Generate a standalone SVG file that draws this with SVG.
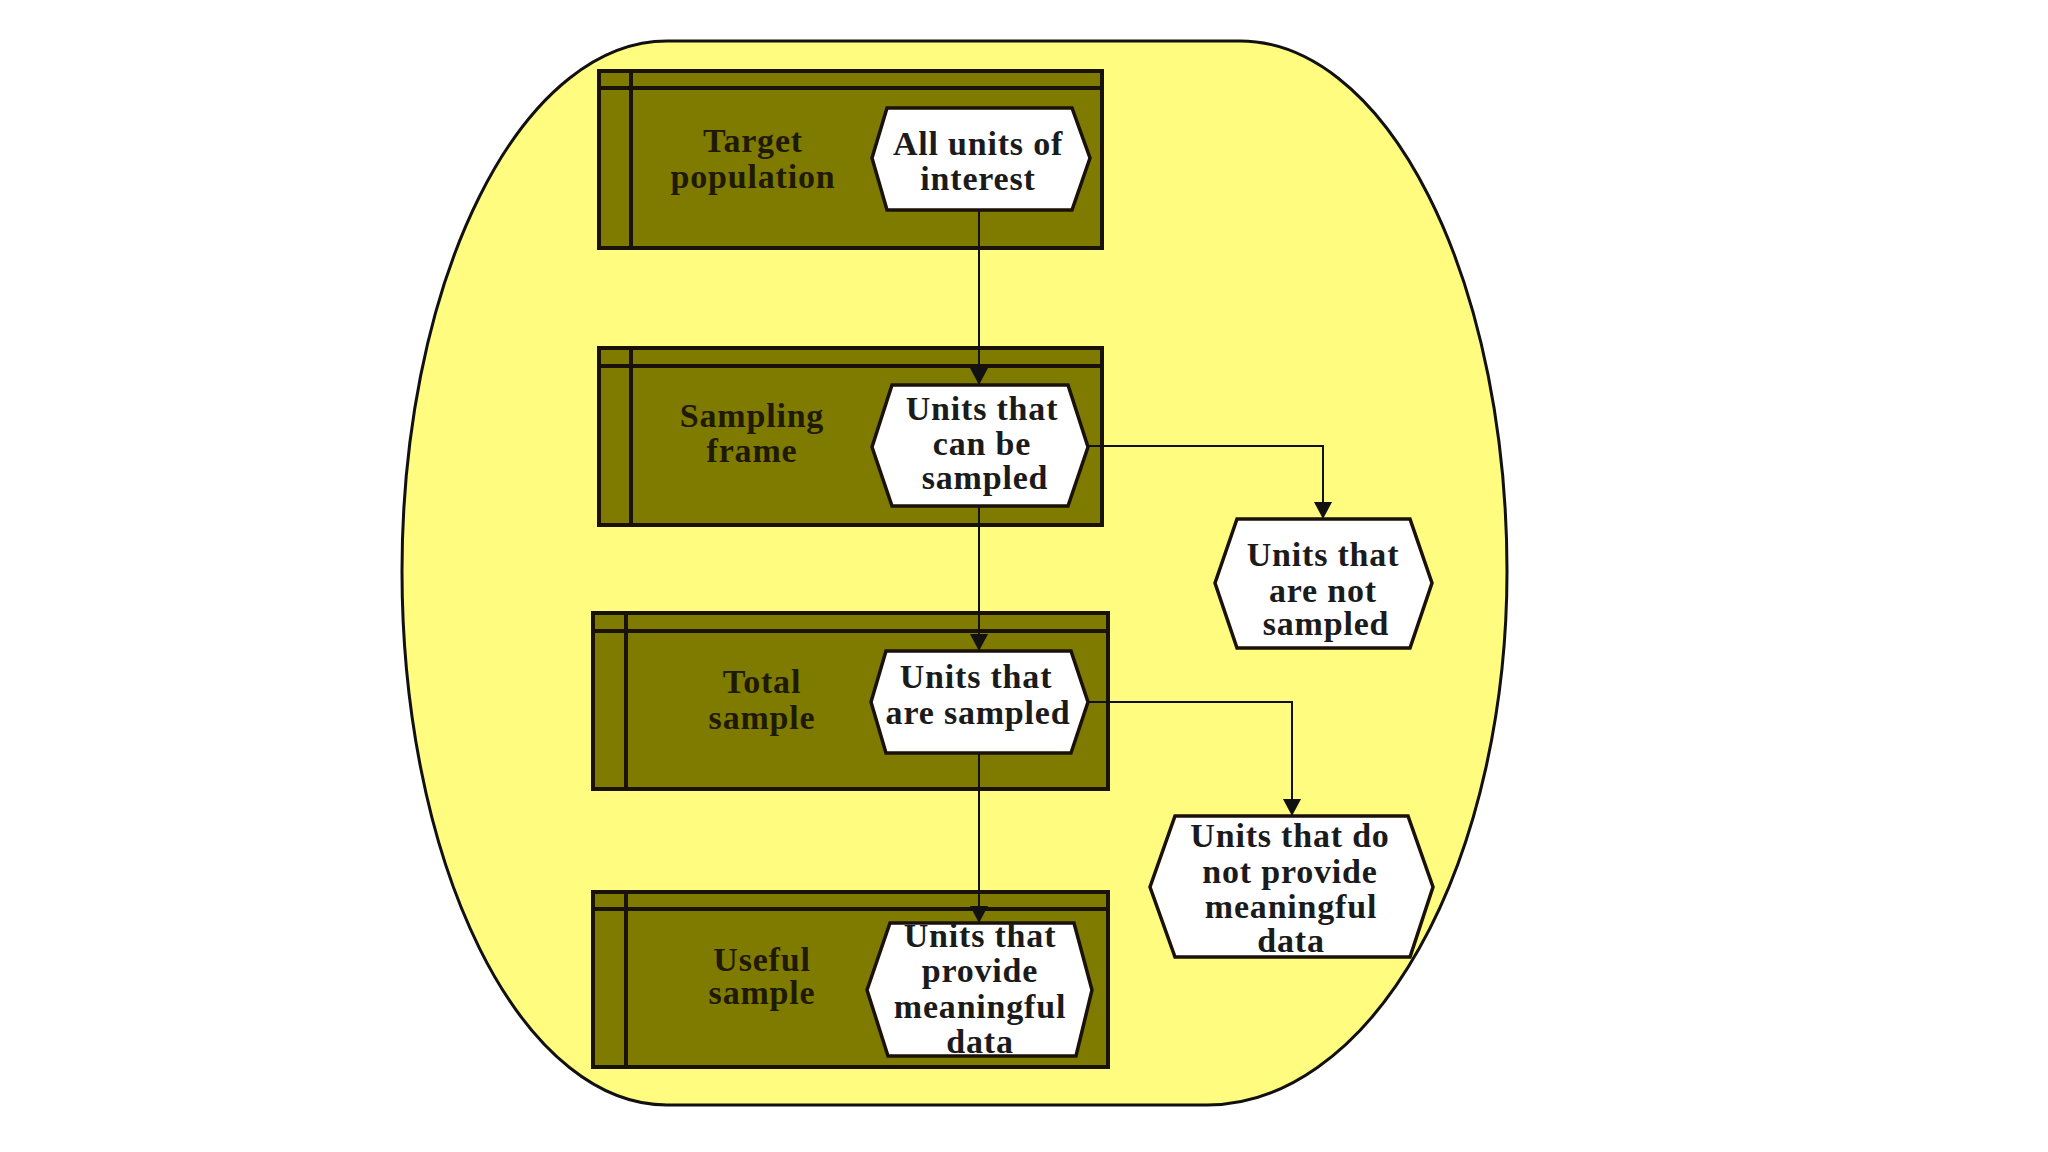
<svg xmlns="http://www.w3.org/2000/svg" width="2048" height="1152" viewBox="0 0 2048 1152">
<style>
.bg{fill:#FFFC80;stroke:#111;stroke-width:3}
.lane{fill:#7F7B00;stroke:#1a1208;stroke-width:4}
.ln{stroke:#1a1208;stroke-width:4;fill:none}
.hex{fill:#fff;stroke:#1a1208;stroke-width:3.5}
.t{font-family:"Liberation Serif","Times New Roman",serif;font-weight:bold;font-size:34px;letter-spacing:0.8px;fill:#1b1b1b;text-anchor:middle}
.lbl{fill:#1f1a05}
.con{fill:none;stroke:#111;stroke-width:2}
</style>
<defs>
<marker id="arr" markerUnits="userSpaceOnUse" markerWidth="20" markerHeight="20" refX="17" refY="9" orient="auto">
<path d="M0,0 L17,9 L0,18 z" fill="#111"/>
</marker>
</defs>
<rect width="2048" height="1152" fill="#fff"/>
<path class="bg" d="M667,41 H1240 A267,530 0 0 1 1507,571 A300,534 0 0 1 1207,1105 H667 A265,534 0 0 1 402,571 A265,530 0 0 1 667,41 Z"/>

<g id="lane-target">
<rect class="lane" x="599" y="71" width="503" height="177"/>
<path class="ln" d="M599,88 H1102 M631,71 V248"/>
<text class="t lbl" x="753" y="152">Target</text>
<text class="t lbl" x="753" y="188">population</text>
</g>
<g id="lane-frame">
<rect class="lane" x="599" y="348" width="503" height="177"/>
<path class="ln" d="M599,366 H1102 M631,348 V525"/>
<text class="t lbl" x="752" y="427">Sampling</text>
<text class="t lbl" x="752" y="462">frame</text>
</g>
<g id="lane-total">
<rect class="lane" x="593" y="613" width="515" height="176"/>
<path class="ln" d="M593,631 H1108 M626,613 V789"/>
<text class="t lbl" x="762" y="693">Total</text>
<text class="t lbl" x="762" y="729">sample</text>
</g>
<g id="lane-useful">
<rect class="lane" x="593" y="892" width="515" height="175"/>
<path class="ln" d="M593,909 H1108 M626,892 V1067"/>
<text class="t lbl" x="762" y="971">Useful</text>
<text class="t lbl" x="762" y="1004">sample</text>
</g>

<g id="connectors">
<path class="con" d="M979,210 V385" marker-end="url(#arr)"/>
<path class="con" d="M979,506 V651" marker-end="url(#arr)"/>
<path class="con" d="M979,753 V923" marker-end="url(#arr)"/>
<path class="con" d="M1088,446 H1323 V519" marker-end="url(#arr)"/>
<path class="con" d="M1088,702 H1292 V816" marker-end="url(#arr)"/>
</g>

<g id="node-all">
<polygon class="hex" points="872,158 887,108 1072,108 1090,158 1072,210 887,210"/>
<text class="t" x="978" y="155">All units of</text>
<text class="t" x="978" y="190">interest</text>
</g>
<g id="node-can">
<polygon class="hex" points="872,447 892,385 1068,385 1088,447 1068,506 892,506"/>
<text class="t" x="982" y="420">Units that</text>
<text class="t" x="982" y="455">can be</text>
<text class="t" x="985" y="489">sampled</text>
</g>
<g id="node-are">
<polygon class="hex" points="871,702 886,651 1071,651 1088,702 1071,753 886,753"/>
<text class="t" x="976" y="688">Units that</text>
<text class="t" x="978" y="724">are sampled</text>
</g>
<g id="node-provide">
<polygon class="hex" points="867,990 890,923 1074,923 1092,990 1076,1056 888,1056"/>
<text class="t" x="980" y="947">Units that</text>
<text class="t" x="980" y="982">provide</text>
<text class="t" x="980" y="1018">meaningful</text>
<text class="t" x="980" y="1053">data</text>
</g>
<g id="node-not">
<polygon class="hex" points="1215,583 1237,519 1410,519 1432,583 1410,648 1237,648"/>
<text class="t" x="1323" y="566">Units that</text>
<text class="t" x="1323" y="602">are not</text>
<text class="t" x="1326" y="635">sampled</text>
</g>
<g id="node-notprovide">
<polygon class="hex" points="1150,887 1175,816 1408,816 1433,887 1410,957 1175,957"/>
<text class="t" x="1290" y="847">Units that do</text>
<text class="t" x="1290" y="883">not provide</text>
<text class="t" x="1291" y="918">meaningful</text>
<text class="t" x="1291" y="952">data</text>
</g>
</svg>
